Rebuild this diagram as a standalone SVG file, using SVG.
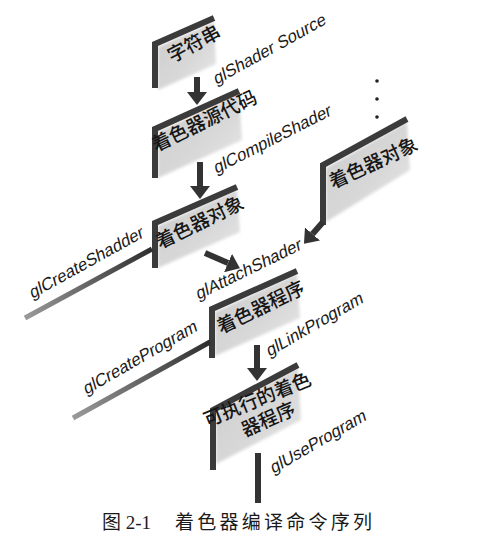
<svg xmlns="http://www.w3.org/2000/svg" width="477" height="548" viewBox="0 0 477 548">
<style>
.bg{fill:#ffffff}
.frame{fill:none;stroke:#3b3b3b;stroke-width:6;stroke-linejoin:miter;stroke-miterlimit:10}
.fill{fill:url(#fillGrad);filter:url(#soft)}
.cn{font-family:"Noto Sans CJK SC","Noto Sans CJK TC",sans-serif;font-size:19px;font-weight:500;fill:#161616}
.lbl{font-family:"Liberation Sans",Arial,sans-serif;font-size:17px;fill:#1a1a1a}
.shaft{stroke:#333333;stroke-width:6;fill:none;marker-end:url(#head)}
.dot{fill:#222222}
.cap{font-family:"Liberation Serif","Noto Sans CJK SC",serif;font-size:19px;fill:#1a1a1a}
</style>
<defs>
<linearGradient id="fillGrad" x1="0" y1="0" x2="1" y2="1">
<stop offset="0" stop-color="#cbcbcb"/>
<stop offset="0.6" stop-color="#d9d9d9"/>
<stop offset="1" stop-color="#ebebeb"/>
</linearGradient>
<filter id="soft" x="-10%" y="-10%" width="120%" height="120%">
<feGaussianBlur stdDeviation="1.5"/>
</filter>
<linearGradient id="lineGradA" gradientUnits="userSpaceOnUse" x1="25" y1="318" x2="152" y2="249">
<stop offset="0" stop-color="#9a9a9a"/>
<stop offset="1" stop-color="#2e2e2e"/>
</linearGradient>
<linearGradient id="lineGradB" gradientUnits="userSpaceOnUse" x1="73" y1="418" x2="210" y2="342">
<stop offset="0" stop-color="#9a9a9a"/>
<stop offset="1" stop-color="#2e2e2e"/>
</linearGradient>
<marker id="head" markerUnits="userSpaceOnUse" markerWidth="14" markerHeight="20" refX="0" refY="10" orient="auto">
<path d="M0,0 L13,10 L0,20 Z" fill="#333333"/>
</marker>
</defs>
<rect class="bg" x="0" y="0" width="477" height="548"/>

<g id="node-string">
<polygon class="fill" points="158,47 214,22 216,64 158,90"/>
<polyline class="frame" points="155,88 155,44 214,18"/>
<text class="cn" transform="translate(172,63) rotate(-28)">字符串</text>
</g>

<g id="node-source">
<polygon class="fill" points="158,132 239,94 242,140 158,178"/>
<polyline class="frame" points="155,178 155,129 239,91"/>
<text class="cn" transform="translate(156,152) rotate(-26)">着色器源代码</text>
</g>

<g id="node-shader-object-left">
<polygon class="fill" points="158,226 237,190 240,232 158,268"/>
<polyline class="frame" points="155,268 155,223 237,187"/>
<text class="cn" transform="translate(160,249) rotate(-26)">着色器对象</text>
</g>

<g id="node-shader-object-right">
<polygon class="fill" points="326,168 407,122 410,170 326,222"/>
<polyline class="frame" points="323,225 323,165 407,119"/>
<text class="cn" transform="translate(333,189) rotate(-25)">着色器对象</text>
</g>

<g id="node-program">
<polygon class="fill" points="215,312 297,274 300,318 215,356"/>
<polyline class="frame" points="212,358 212,309 297,271"/>
<text class="cn" transform="translate(221,334) rotate(-26)">着色器程序</text>
</g>

<g id="node-executable">
<polygon class="fill" points="216,413 298,368 301,420 216,464"/>
<polyline class="frame" points="213,470 213,410 298,365"/>
<text class="cn" transform="translate(207,427) rotate(-22)">可执行的着色</text>
<text class="cn" transform="translate(245,437) rotate(-24)">器程序</text>
</g>

<g id="dots">
<circle class="dot" cx="377" cy="81" r="1.8"/>
<circle class="dot" cx="377" cy="99" r="1.8"/>
<circle class="dot" cx="377" cy="117" r="1.8"/>
</g>

<g id="connectors">
<line class="shaft" x1="197" y1="77" x2="197" y2="92"/>
<line class="shaft" x1="200" y1="162" x2="200" y2="186"/>
<line class="shaft" x1="205" y1="253" x2="228" y2="263"/>
<line class="shaft" x1="323" y1="222" x2="312.5" y2="234"/>
<line class="shaft" x1="257" y1="345" x2="257" y2="368"/>
<line x1="25" y1="318" x2="152" y2="249" stroke="url(#lineGradA)" stroke-width="5"/>
<line x1="73" y1="418" x2="210" y2="342" stroke="url(#lineGradB)" stroke-width="5"/>
<line x1="258" y1="453" x2="258" y2="503" stroke="#333333" stroke-width="6"/>
<text class="lbl" transform="translate(216,85) rotate(-29) skewX(-13)">glShader Source</text>
<text class="lbl" transform="translate(216,174) rotate(-27) skewX(-13)">glCompileShader</text>
<text class="lbl" transform="translate(32,299) rotate(-29) skewX(-13)">glCreateShadder</text>
<text class="lbl" transform="translate(198,300) rotate(-26) skewX(-13)">glAttachShader</text>
<text class="lbl" transform="translate(86,395) rotate(-30) skewX(-13)">glCreateProgram</text>
<text class="lbl" transform="translate(269,357) rotate(-30) skewX(-13)">glLinkProgram</text>
<text class="lbl" transform="translate(273,474) rotate(-30) skewX(-13)">glUseProgram</text>
</g>

<g id="caption">
<text class="cap" x="102" y="529">图 2-1</text>
<text class="cap" x="175" y="529" textLength="197" lengthAdjust="spacing">着色器编译命令序列</text>
</g>
</svg>
